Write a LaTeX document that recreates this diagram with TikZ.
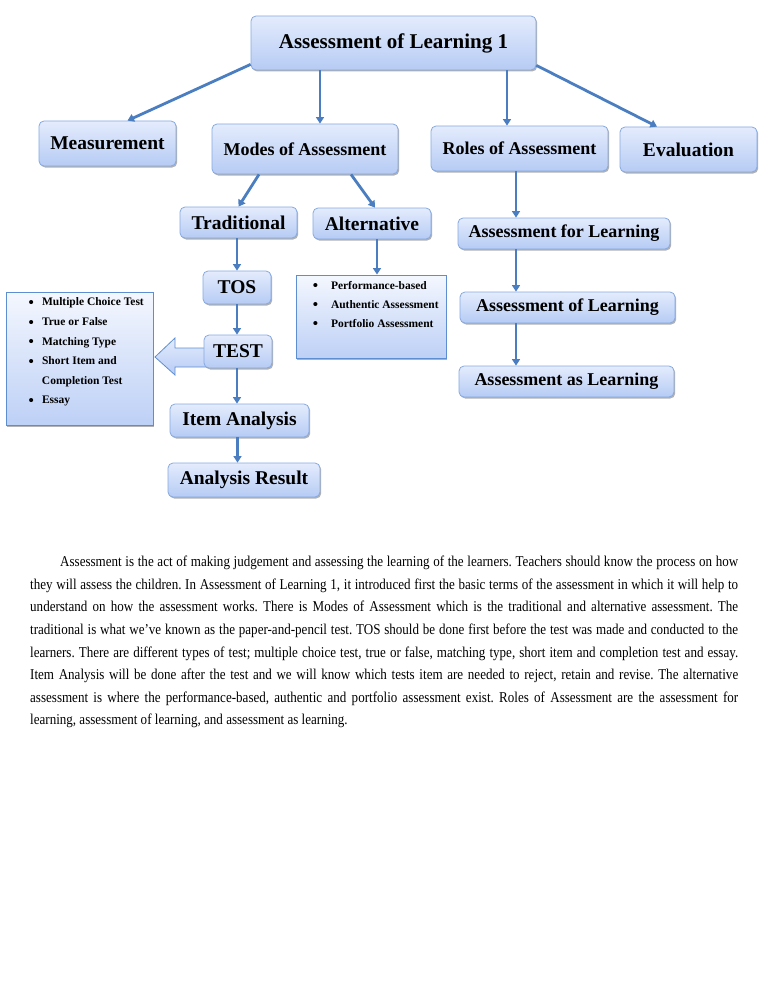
\documentclass[tikz,border=0pt]{standalone}
\usepackage{fontspec}
\setmainfont{Liberation Serif}
\newfontfamily\bodyfont[FakeStretch=0.87]{Liberation Serif}
\usepackage{tikz}
\usetikzlibrary{arrows.meta,shadows}

\definecolor{boxline}{HTML}{86A9E0}
\definecolor{boxtop}{HTML}{E4ECFD}
\definecolor{boxbot}{HTML}{B6CBF4}
\definecolor{listline}{HTML}{5E8ED2}
\definecolor{listtop}{HTML}{F4F7FE}
\definecolor{listbot}{HTML}{BDD0F6}
\definecolor{linkblue}{HTML}{4A7EC0}

\newcommand{\sz}[1]{\fontsize{#1}{#1}\selectfont}
\newcommand{\bitem}[2][8pt]{\noindent\llap{\raisebox{-1.6pt}{\fontsize{15}{15}\selectfont\textbullet}\hspace{#1}}#2\par}

\tikzset{
  topic/.style={draw=boxline, line width=0.8pt, rounded corners=5pt,
    top color=boxtop, bottom color=boxbot, inner sep=0pt, font=\bfseries,
    drop shadow={shadow xshift=1.2pt, shadow yshift=-1.5pt, opacity=0.3, fill=black}},
  listbox/.style={draw=listline, line width=0.9pt,
    top color=listtop, bottom color=listbot, inner sep=0pt, font=\bfseries,
    drop shadow={shadow xshift=1.2pt, shadow yshift=-1.5pt, opacity=0.3, fill=black}},
  wh/.style 2 args={minimum width=#1pt, minimum height=#2pt},
  link/.style={draw=linkblue, line width=2.8pt, -{Triangle[length=6.5pt,width=8pt]}}
}

\begin{document}
\begin{tikzpicture}[x=1pt,y=-1pt]
    \useasboundingbox [fill=white] (0,0) rectangle (768,1006);

    % hollow arrow from TEST to the list of test types
    \draw [draw=listline, line width=0.8pt, top color=boxtop, bottom color=boxbot]
      (210,348) -- (175,348) -- (175,338) -- (155,357) -- (175,375) -- (175,367) -- (210,367) -- cycle;

    \node [topic, wh={285}{54}] (title) at (393.5,43) {\sz{21}Assessment of Learning 1};

    \node [topic, wh={137}{45}] (meas)  at (107.5,143.5) {\sz{19.5}Measurement};
    \node [topic, wh={186}{50}] (modes) at (305,149)     {\sz{18}Modes of Assessment};
    \node [topic, wh={177}{45}] (roles) at (519.5,148.5) {\sz{18}Roles of Assessment};
    \node [topic, wh={137}{45}] (evalu) at (688.5,149.5) {\sz{19.5}Evaluation};

    \node [topic, wh={117}{31}] (trad)  at (238.5,222.5) {\sz{19.5}Traditional};
    \node [topic, wh={118}{31}] (alter) at (372,223.5)   {\sz{19.5}Alternative};
    \node [topic, wh={68}{33}]  (tos)   at (237,287.5)   {\sz{19.5}TOS};
    \node [topic, wh={68}{33}]  (test)  at (238,351.5)   {\sz{19.5}TEST};
    \node [topic, wh={139}{33}] (itemana) at (239.5,420.5) {\sz{19.5}Item Analysis};
    \node [topic, wh={152}{34}] (result)  at (244,480)     {\sz{19.5}Analysis Result};

    \node [topic, wh={212}{31}] (afl) at (564,233.5)   {\sz{18}Assessment for Learning};
    \node [topic, wh={215}{31}] (aol) at (567.5,307.5) {\sz{18}Assessment of Learning};
    \node [topic, wh={215}{31}] (aal) at (566.5,381.5) {\sz{18}Assessment as Learning};

    \node [listbox] (testtypes) at (79.5,358.5) {\parbox[c][133pt][t]{147pt}{%
      \vspace*{6pt}\leftskip=36pt\fontsize{11.5}{19.6}\selectfont
      \bitem{Multiple Choice Test}
      \bitem{True or False}
      \bitem{Matching Type}
      \bitem{Short Item and}
      \noindent Completion Test\par
      \bitem{Essay}}};
    \node [listbox] (altkinds) at (371,316.5) {\parbox[c][83pt][t]{150pt}{%
      \vspace*{6pt}\leftskip=35pt\fontsize{11.5}{19}\selectfont
      \bitem[13pt]{Performance-based}
      \bitem[13pt]{Authentic Assessment}
      \bitem[13pt]{Portfolio Assessment}}};

    % connectors
    \draw [link] ([yshift=6pt]title.south west) -- ([xshift=20pt]meas.north);
    \draw [link] ([xshift=15pt]modes.north |- title.south) -- ([xshift=15pt]modes.north);
    \draw [link] ([xshift=-12.5pt]roles.north |- title.south) -- ([xshift=-12.5pt]roles.north);
    \draw [link] ([yshift=5pt]title.south east) -- ([xshift=-31.5pt]evalu.north);
    \draw [link] ([xshift=-46pt]modes.south) -- (trad.north);
    \draw [link] ([xshift=46pt]modes.south) -- ([xshift=3pt]alter.north);
    \draw [link] ([xshift=5pt]alter.south) -- ([xshift=5pt]alter.south |- altkinds.north);
    \draw [link] (tos.north |- trad.south) -- (tos.north);
    \draw [link] (tos.south) -- (tos.south |- test.north);
    \draw [link] ([xshift=-1pt]test.south) -- ([xshift=-1pt]test.south |- itemana.north);
    \draw [link] ([xshift=-2pt]itemana.south) -- ([xshift=-2pt]itemana.south |- result.north);
    \draw [link] ([xshift=-3.5pt]roles.south) -- ([xshift=-3.5pt]roles.south |- afl.north);
    \draw [link] ([xshift=-48pt]afl.south) -- ([xshift=-48pt]afl.south |- aol.north);
    \draw [link] ([xshift=-51.5pt]aol.south) -- ([xshift=-51.5pt]aol.south |- aal.north);

    \node [anchor=north west, inner sep=0pt, text width=708pt, align=justify,
      font=\bodyfont\fontsize{15}{22.6}\selectfont] (summary) at (30,556) {%
      \frenchspacing\tolerance=10000\hspace*{30pt}Assessment is the act of making judgement and assessing the learning of the learners. Teachers should know the process on how\linebreak
      they will assess the children. In Assessment of Learning 1, it introduced first the basic terms of the assessment in which it will help to\linebreak
      understand on how the assessment works. There is Modes of Assessment which is the traditional and alternative assessment. The\linebreak
      traditional is what we’ve known as the paper-and-pencil test. TOS should be done first before the test was made and conducted to the\linebreak
      learners. There are different types of test; multiple choice test, true or false, matching type, short item and completion test and essay.\linebreak
      Item Analysis will be done after the test and we will know which tests item are needed to reject, retain and revise. The alternative\linebreak
      assessment is where the performance-based, authentic and portfolio assessment exist. Roles of Assessment are the assessment for\linebreak
      learning, assessment of learning, and assessment as learning.};
\end{tikzpicture}
\end{document}
